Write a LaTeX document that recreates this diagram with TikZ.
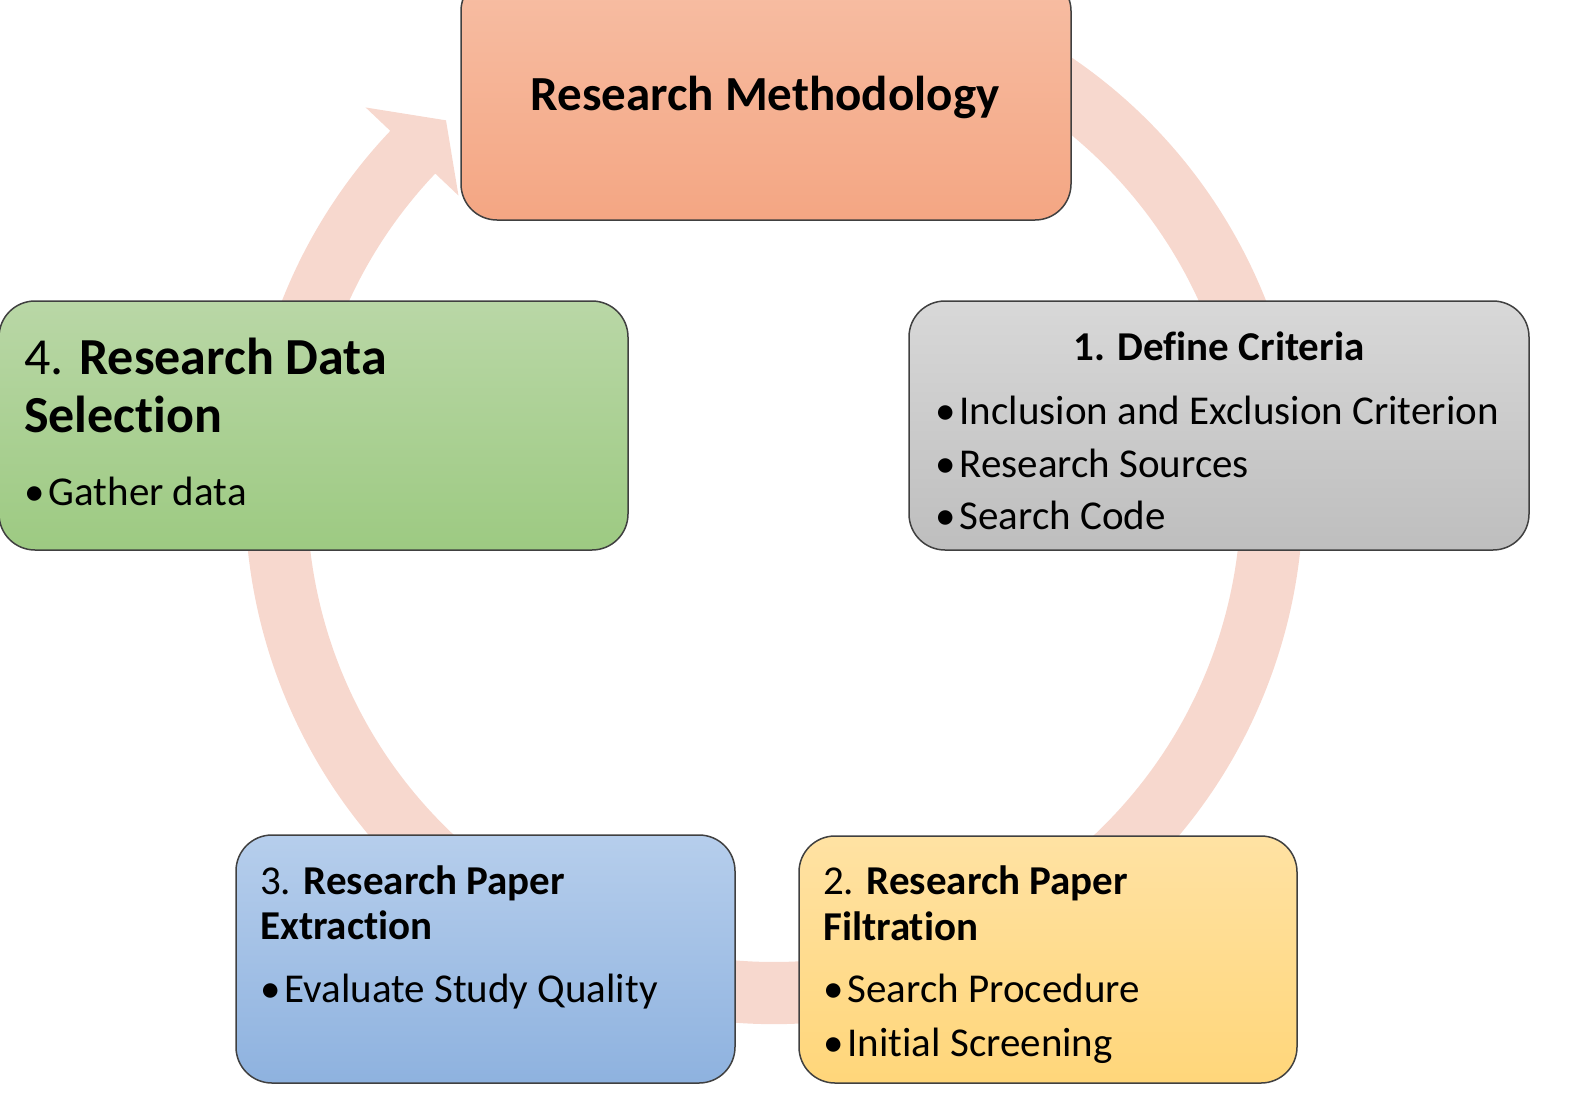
\documentclass[tikz,border=0pt]{standalone}
\usepackage{fontspec}
\setmainfont{Carlito}[Ligatures=NoCommon]
\definecolor{ringpink}{RGB}{247,216,206}
\definecolor{methtop}{RGB}{247,190,164}
\definecolor{methbot}{RGB}{244,166,131}
\definecolor{crittop}{RGB}{216,216,216}
\definecolor{critbot}{RGB}{190,190,190}
\definecolor{filttop}{RGB}{255,226,163}
\definecolor{filtbot}{RGB}{255,214,122}
\definecolor{extrtop}{RGB}{182,206,236}
\definecolor{extrbot}{RGB}{142,178,223}
\definecolor{seltop}{RGB}{185,215,166}
\definecolor{selbot}{RGB}{157,202,130}
\definecolor{rim}{RGB}{64,64,64}
\newcommand{\bul}{•\kern4pt}
\tikzset{
	stage/.style={draw=rim, line width=1.5pt, rounded corners=36pt, inner sep=0pt},
	txt/.style={anchor=base west, inner sep=0pt, font=\fontsize{41}{49}\selectfont},
	head/.style={txt, font=\bfseries\fontsize{41}{49}\selectfont}
}

\begin{document}
\begin{tikzpicture}[x=1pt,y=-1pt]
		\useasboundingbox (0,0) rectangle (1584,1095);
		% the cycle arrow behind the boxes
		\fill[ringpink, shift={(774,495)}] (-70:529) arc[start angle=-70, end angle=223.5, radius=529] -- (223.5:563) -- (228.8:498) -- (223.5:435) -- (223.5:467) arc[start angle=223.5, end angle=-70, radius=467] -- cycle;
		% boxes
		\node[stage, top color=methtop, bottom color=methbot, minimum width=610pt, minimum height=245pt] (method) at (766,97.5) {};
		\node[stage, top color=crittop, bottom color=critbot, minimum width=620pt, minimum height=249pt] (crit) at (1219,425.5) {};
		\node[stage, top color=filttop, bottom color=filtbot, minimum width=498pt, minimum height=247pt] (filt) at (1048,959.5) {};
		\node[stage, top color=extrtop, bottom color=extrbot, minimum width=499pt, minimum height=248pt] (extr) at (485.5,959) {};
		\node[stage, top color=seltop, bottom color=selbot, minimum width=629pt, minimum height=249pt] (sel) at (313.5,425.5) {};
		% texts
		\node[anchor=base, inner sep=0pt, font=\bfseries\fontsize{49}{58}\selectfont] (methodT) at (765,110) {Research Methodology};
		\node[head, anchor=base] (critT) at (1219,360) {1. Define Criteria};
		\node[txt] (critA) at (935,424) {\bul Inclusion and Exclusion Criterion};
		\node[txt] (critB) at (935,477) {\bul Research Sources};
		\node[txt] (critC) at (935,529) {\bul Search Code};
		\node[txt] (filtT) at (823,894) {2. \textbf{Research Paper}};
		\node[head] (filtU) at (823,940) {Filtration};
		\node[txt] (filtA) at (823,1002) {\bul Search Procedure};
		\node[txt] (filtB) at (823,1056) {\bul Initial Screening};
		\node[txt] (extrT) at (260,894) {3. \textbf{Research Paper}};
		\node[head] (extrU) at (260,939) {Extraction};
		\node[txt] (extrA) at (260,1002) {\bul Evaluate Study Quality};
		\node[txt, font=\fontsize{52}{60}\selectfont] (selT) at (24,374) {4. \textbf{Research Data}};
		\node[head, font=\bfseries\fontsize{52}{60}\selectfont] (selU) at (24,432) {Selection};
		\node[txt] (selA) at (24,505) {\bul Gather data};
	\end{tikzpicture}
\end{document}
